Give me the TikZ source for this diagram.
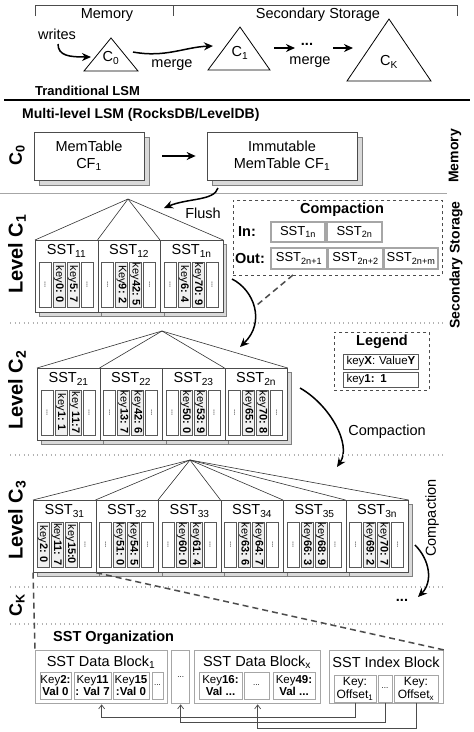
\documentclass[tikz,border=0pt]{standalone}
\usepackage{fontspec}
\setmainfont{Liberation Sans}
\usetikzlibrary{arrows.meta,calc}
\newcommand\fsz[2]{\fontsize{#1}{#2}\selectfont}
\newcommand\sub[1]{\textsubscript{#1}}
\newcommand\sdots{{\fsz{8}{9}...}}
\colorlet{kfill}{gray!12}
\colorlet{dfill}{white}
\newcommand\sstbox[5]{%
  \filldraw[fill=gray!30,draw=gray] ($(#2,#3)+(4,4)$) rectangle ++(62.5,72);
  \node[sstn,anchor=north west] (#1) at (#2,#3) {};
  \node[ssttitle] (#1t) at ($(#1.north)+(0,11)$) {SST\sub{#4}};
  \foreach \slotsty/\slottxt [count=\i from 0] in {#5}{
    \node[slot=\slotsty] (#1s\i) at ($(#1.north west)+(10+\i*14,44.5)$) {\slottxt};
  }%
}
\tikzset{
  arr/.style={line width=1.5pt,-{Stealth[length=9pt,width=8pt]}},
  sstn/.style={draw=gray!60!black,fill=white,minimum width=62.5pt,minimum height=72pt,inner sep=0pt,line width=0.7pt},
  ssttitle/.style={font=\fsz{14.5}{16},inner sep=0pt},
  slot/.style={draw=gray!70!black,fill=#1,rotate=-90,minimum width=45pt,minimum height=12pt,inner sep=0pt,font=\fsz{11}{12},line width=0.6pt},
  roof/.style={draw=black!80,line width=0.6pt},
  membox/.style={draw=gray!60!black,fill=white,align=center,inner sep=0pt,line width=0.7pt},
  shadowc/.style={fill=gray!30,draw=gray},
  lvl/.style={rotate=90,font=\bfseries\fsz{20}{24}},
  lvlc/.style={rotate=90,font=\bfseries\fsz{18}{22}},
  sidelbl/.style={rotate=90,font=\bfseries\fsz{14}{16}},
  hd/.style={font=\bfseries\fsz{13}{15},inner sep=0pt},
  bld/.style={font=\bfseries\fsz{14.5}{17}},
  dashbox/.style={draw=gray!60!black,dashed,line width=0.9pt,inner sep=0pt},
  sbox/.style={draw=gray!70,line width=1.3pt,inner sep=0pt,font=\fsz{13}{15}},
  dashthick/.style={draw=gray!60!black,line width=1.5pt,dash pattern=on 6pt off 4pt},
  dotl/.style={draw=gray!60,line width=1.2pt,dash pattern=on 1pt off 3.5pt},
  legent/.style={draw=gray!70!black,line width=1pt,text width=69pt,inner xsep=3pt,inner ysep=0pt,minimum height=15pt,font=\fsz{11.5}{13},align=left},
  blk/.style={draw=gray!70,line width=1.3pt,inner sep=0pt},
  ent/.style={draw=gray!70,line width=1pt,inner sep=0pt,align=center,font=\fsz{11.5}{12.5},minimum height=27pt},
  ptr/.style={draw=gray!60!black,line width=0.7pt,-{Straight Barb[length=4pt,width=6pt]}},
}
\begin{document}
\begin{tikzpicture}[x=1pt,y=-1pt,every node/.style={font=\fsz{14.5}{17}}]
\useasboundingbox (0,0) rectangle (474,732);
% ---------- traditional LSM
\draw[gray!60!black,line width=0.7pt] (35,16) -- (35,5) -- (457,5) -- (457,16);
\draw[gray!60!black,line width=0.7pt] (173,5) -- (173,16);
\node (memtop) at (107,15) {Memory};
\node (sectop) at (318,15) {Secondary Storage};
\node (writes) at (57,34) {writes};
\draw[line width=0.8pt] (111,38) -- (84,71) -- (138,71) -- cycle;
\node (tc0) at (111,58) {C\sub0};
\draw[line width=0.8pt] (240,27) -- (208,70) -- (270,70) -- cycle;
\node (tc1) at (240,53) {C\sub1};
\draw[line width=0.8pt] (389,19) -- (347,81) -- (431,81) -- cycle;
\node (tck) at (389,62) {C\sub{K}};
\coordinate (w1) at (58,44); \coordinate (w2) at (91,57);
\draw[arr] (w1) .. controls (58,56) and (70,57) .. (w2);
\coordinate (m1) at (133,52); \coordinate (m2) at (213,46);
\draw[arr] (m1) .. controls (165,58) and (185,47) .. (m2);
\node (mg1) at (172,65) {merge};
\coordinate (a1) at (274,48); \coordinate (a2) at (295,48);
\draw[arr] (a1) -- (a2);
\node[bld] (tdots) at (307,44) {...};
\node (mg2) at (310,62) {merge};
\coordinate (a3) at (333,48); \coordinate (a4) at (353,48);
\draw[arr] (a3) -- (a4);
\node[hd,anchor=west] (trad) at (35,91) {Tranditional LSM};
\draw[line width=2.5pt] (4,100) -- (470,100);
\node[hd,anchor=west,font=\bfseries\fsz{14}{16}] (multi) at (22,115) {Multi-level LSM (RocksDB/LevelDB)};
% ---------- C0
\node[lvlc] (c0lbl) at (17,155) {C\sub0};
\filldraw[shadowc] (39,137) rectangle (149,185);
\node[membox,minimum width=110pt,minimum height=48pt] (mem1) at (89,156) {MemTable\\CF\sub1};
\filldraw[shadowc] (212,137) rectangle (362,185);
\node[membox,minimum width=150pt,minimum height=48pt] (mem2) at (282,156) {Immutable\\MemTable CF\sub1};
\draw[arr,shorten <=18pt,shorten >=11pt] (mem1.east) -- (mem2.west);
\node[sidelbl] (memside) at (455,156) {Memory};
\draw[gray!70,line width=0.8pt] (0,193) -- (447,193);
\node[sidelbl] (secside) at (456,265) {Secondary Storage};
% ---------- Level C1
\node[lvl] (l1) at (17,254) {Level C\sub1};
\coordinate (apex1) at (128,199);
\sstbox{s11}{35}{240}{11}{dfill/\sdots,kfill/key\textbf{0: 0},kfill/key\textbf{5: 7},dfill/\sdots}
\sstbox{s12}{97.5}{240}{12}{dfill/\sdots,kfill/Key\textbf{9: 2},kfill/key\textbf{42: 5},dfill/\sdots}
\sstbox{s1n}{160}{240}{1n}{dfill/\sdots,kfill/key\textbf{6: 4},kfill/key\textbf{70: 9},dfill/\sdots}
\draw[roof] (apex1) -- (s11.north west);
\draw[roof] (apex1) -- (s12.north west);
\draw[roof] (apex1) -- (s1n.north west);
\draw[roof] (apex1) -- (s1n.north east);
\coordinate (f1) at (218,188); \coordinate (f2) at (164,208);
\draw[arr] (f1) .. controls (214,201) and (188,198) .. (f2);
\node (flush) at (203,213) {Flush};
% compaction box
\node[dashbox,minimum width=209pt,minimum height=75pt,anchor=north west] (cbox) at (233,200) {};
\node[bld] (ctitle) at (342,210) {Compaction};
\node[bld] (inl) at (247,232) {In:};
\node[sbox,minimum width=54pt,minimum height=20pt] (cin1) at (298,232) {SST\sub{1n}};
\node[sbox,minimum width=55pt,minimum height=20pt] (cin2) at (354.5,232) {SST\sub{2n}};
\node[bld] (outl) at (250,258.5) {Out:};
\node[sbox,minimum width=56pt,minimum height=21pt] (cout1) at (299,258.5) {SST\sub{2n+1}};
\node[sbox,minimum width=55pt,minimum height=21pt] (cout2) at (355.5,258.5) {SST\sub{2n+2}};
\node[sbox,minimum width=54pt,minimum height=21pt] (cout3) at (411,258.5) {SST\sub{2n+m}};
\coordinate (k1) at (232,279); \coordinate (k2) at (240,347);
\draw[arr] (k1) .. controls (254,290) and (266,322) .. (k2);
\coordinate (d1) at (293,275); \coordinate (d2) at (257,305);
\draw[dashthick] (d1) -- (d2);
\draw[dotl] (10,323) -- (443,323);
% ---------- Level C2
\node[lvl] (l2) at (17,390) {Level C\sub2};
\coordinate (apex2) at (162,331);
\sstbox{s21}{37}{368}{21}{dfill/\sdots,kfill/key\textbf{1: 1},kfill/key \textbf{11:7},dfill/\sdots}
\sstbox{s22}{99.5}{368}{22}{dfill/\sdots,kfill/key\textbf{13: 7},kfill/key\textbf{42: 6},dfill/\sdots}
\sstbox{s23}{162}{368}{23}{dfill/\sdots,kfill/key\textbf{50: 0},kfill/key\textbf{53: 9},dfill/\sdots}
\sstbox{s2n}{224.5}{368}{2n}{dfill/\sdots,kfill/key\textbf{65: 0},kfill/key\textbf{70: 8},dfill/\sdots}
\draw[roof] (apex2) -- (s21.north west);
\draw[roof] (apex2) -- (s22.north west);
\draw[roof] (apex2) -- (s2n.north west);
\draw[roof] (apex2) -- (s2n.north east);
% legend
\node[dashbox,minimum width=95pt,minimum height=58pt,anchor=north west] (leg) at (334,332) {};
\node[bld] (legt) at (382,342) {Legend};
\node[legent,anchor=north west] (leg1) at (343,354) {key\textbf{X}: Value\textbf{Y}};
\node[legent,anchor=north west] (leg2) at (343,372) {key\textbf{1: 1}};
\coordinate (k3) at (300,388); \coordinate (k4) at (337,467);
\draw[arr] (k3) .. controls (330,405) and (352,445) .. (k4);
\node (comp2) at (387,432) {Compaction};
\draw[dotl] (10,455) -- (443,455);
% ---------- Level C3
\node[lvl] (l3) at (17,520) {Level C\sub3};
\coordinate (apex3) at (190,460);
\sstbox{s31}{33}{500}{31}{kfill/key\textbf{2: 0},kfill/key\textbf{11: 7},kfill/key\textbf{15:0},dfill/\sdots}
\sstbox{s32}{95.5}{500}{32}{dfill/\sdots,kfill/key\textbf{51: 0},kfill/key\textbf{54: 5},dfill/\sdots}
\sstbox{s33}{158}{500}{33}{dfill/\sdots,kfill/key\textbf{60: 0},kfill/key\textbf{61: 4},dfill/\sdots}
\sstbox{s34}{220.5}{500}{34}{dfill/\sdots,kfill/key\textbf{63: 6},kfill/key\textbf{64: 7},dfill/\sdots}
\sstbox{s35}{283}{500}{35}{dfill/\sdots,kfill/key\textbf{66: 3},kfill/key\textbf{68: 9},dfill/\sdots}
\sstbox{s3n}{345.5}{500}{3n}{dfill/\sdots,kfill/key\textbf{69: 2},kfill/key\textbf{70: 7},dfill/\sdots}
\foreach \b in {s31,s32,s33,s34,s35,s3n}{\draw[roof] (apex3) -- (\b.north west);}
\draw[roof] (apex3) -- (s3n.north east);
\node[rotate=90] (comp3) at (432,518) {Compaction};
\coordinate (k5) at (415,545); \coordinate (k6) at (418,597);
\draw[arr] (k5) .. controls (430,560) and (433,582) .. (k6);
\draw[dotl] (10,587) -- (443,587);
\node[lvlc] (ck) at (17,605) {C\sub{K}};
\node[bld] (kdots) at (402,600) {...};
\draw[dotl] (10,624) -- (443,624);
% ---------- SST organization
\node[bld,anchor=west,inner sep=0pt] (orgt) at (53,638) {SST Organization};
\node[blk,minimum width=132pt,minimum height=53pt,anchor=north west] (db1) at (35,650) {};
\node (db1t) at (101,662) {SST Data Block\sub1};
\node[ent,minimum width=31pt] (e1) at (55.5,685.5) {Key\textbf{2:}\\\textbf{Val 0}};
\node[ent,minimum width=37pt] (e2) at (92.5,685.5) {Key\textbf{11}\\\textbf{: Val 7}};
\node[ent,minimum width=36pt] (e3) at (131,685.5) {Key\textbf{15}\\\textbf{:Val 0}};
\node[ent,minimum width=11pt,font=\fsz{8}{9}] (e4) at (157.5,685.5) {...};
\node[blk,minimum width=18pt,minimum height=53pt,anchor=north west,font=\fsz{8}{9}] (dbm) at (171,650) {...};
\node[blk,minimum width=126pt,minimum height=53pt,anchor=north west] (dbx) at (194,650) {};
\node (dbxt) at (257,662) {SST Data Block\sub{x}};
\node[ent,minimum width=43pt] (ex1) at (220.5,685.5) {Key\textbf{16:}\\\textbf{Val ...}};
\node[ent,minimum width=25pt,font=\fsz{8}{9}] (ex2) at (256.5,685.5) {...};
\node[ent,minimum width=42pt] (ex3) at (294,685.5) {Key\textbf{49:}\\\textbf{Val ...}};
\node[blk,minimum width=114pt,minimum height=53pt,anchor=north west] (idx) at (329,650) {};
\node (idxt) at (386,662) {SST Index Block};
\node[ent,minimum width=42pt,font=\fsz{12}{13}] (i1) at (355,688.5) {Key:\\Offset\sub1};
\node[ent,minimum width=14pt,font=\fsz{8}{9}] (i2) at (385,688.5) {...};
\node[ent,minimum width=44pt,font=\fsz{12}{13}] (i3) at (416,688.5) {Key:\\Offset\sub{x}};
\draw[ptr] (i1.south) -- ++(0,15) -| (db1.south);
\draw[ptr] (i2.south) -- ++(0,20) -| (dbm.south);
\draw[ptr] (i3.south) -- ++(0,26) -| (dbx.south);
\draw[dashthick] (s31.south west) -- (db1.north west);
\draw[dashthick] (s31.south east) -- (idx.north east);
\end{tikzpicture}
\end{document}
